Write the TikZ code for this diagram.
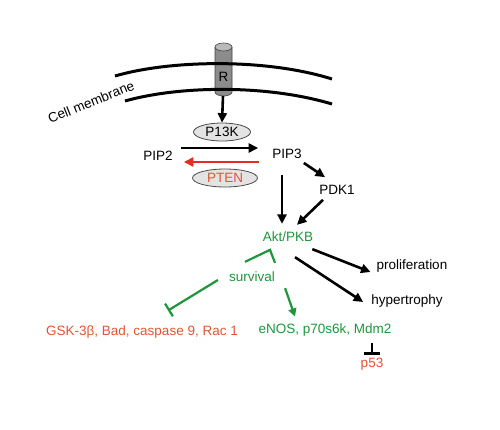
\documentclass[tikz,border=0pt]{standalone}
\usepackage{fontspec}
\setmainfont{Liberation Sans}
\usetikzlibrary{arrows.meta}
\usetikzlibrary{shapes.geometric}
\definecolor{aktgreen}{RGB}{30,150,60}
\definecolor{targetred}{RGB}{225,85,50}
\definecolor{ptenred}{RGB}{225,45,35}
\definecolor{cylgray}{RGB}{140,140,140}

\begin{document}
\begin{tikzpicture}[x = 1pt, y = -1pt, font=\fontsize{13.5}{16}\selectfont]
	\tikzstyle{textStyle} = [inner sep = 2pt]
	\tikzstyle{enzymeStyle} = [shape = ellipse, minimum width = 57pt, minimum height = 18pt, inner sep = 0pt, fill = gray!22, draw = gray!60!black, line width = 0.8pt]
	\tikzstyle{blackArrow} = [line width = 2.6pt, -{Triangle[length = 9.5pt, width = 9pt]}]
	\tikzstyle{greenArrow} = [line width = 2.2pt, aktgreen, -{Triangle[length = 8pt, width = 8pt]}]
	\tikzstyle{greenBlock} = [line width = 2.2pt, aktgreen, -{Bar[width = 15pt, line width = 2.2pt]}]
	\tikzstyle{blackBlock} = [line width = 2.6pt, -{Bar[width = 16pt, line width = 3pt]}]
	\useasboundingbox (0,0) rectangle (500,429);
	% receptor
	\fill[cylgray] (215,47) -- (215,92) arc[start angle = 180, end angle = 0, x radius = 8.5, y radius = 4] -- (232,47) -- cycle;
	\draw[gray!50!black, line width = 0.6pt] (215,47) -- (215,92) arc[start angle = 180, end angle = 0, x radius = 8.5, y radius = 4] -- (232,47);
	\filldraw[fill = gray!55, draw = gray!50!black, line width = 0.6pt] (223.5,47) ellipse [x radius = 8.5, y radius = 4];
	\coordinate (recBottom) at (223,96);
	% membrane
	\draw[line width = 3pt] (115,76) .. controls (170,60) and (265,58) .. (332,79);
	\draw[line width = 3pt] (125,101) .. controls (178,86) and (265,84) .. (332,104);
	\node[textStyle] (R) at (223.5,77) {R};
	\node[textStyle, rotate = 22] (membrane) at (91,102) {Cell membrane};
	% nodes
	\node[enzymeStyle] (p13k) at (222,132) {P13K};
	\node[enzymeStyle, minimum width = 65pt, text = targetred] (pten) at (225,178) {PTEN};
	\node[textStyle] (PIP2) at (158,156) {PIP2};
	\node[textStyle] (PIP3) at (287,154) {PIP3};
	\node[textStyle] (PDK1) at (337,190) {PDK1};
	\node[textStyle, text = aktgreen] (akt) at (288,237) {Akt/PKB};
	\node[textStyle, text = aktgreen] (surv) at (252,277) {survival};
	\node[textStyle] (prolif) at (412,266) {proliferation};
	\node[textStyle] (hyper) at (407,301) {hypertrophy};
	\node[textStyle, text = targetred] (gsk) at (142,332) {GSK-3β, Bad, caspase 9, Rac 1};
	\node[textStyle, text = aktgreen] (enos) at (325,330) {eNOS, p70s6k, Mdm2};
	\node[textStyle, text = targetred] (p53) at (372,364) {p53};
	% edges
	\draw[blackArrow] (recBottom) -- (p13k.north);
	\draw[blackArrow] ([xshift = 6pt, yshift = 8pt]PIP2.east) -- ([xshift = -12pt, yshift = 6pt]PIP3.west);
	\draw[blackArrow, ptenred] ([xshift = -11pt, yshift = -8pt]PIP3.west) -- ([xshift = 9pt, yshift = -6pt]PIP2.east);
	\draw[blackArrow] ([xshift = -5pt, yshift = -14pt]PIP3.south) -- ([xshift = -6pt, yshift = 6pt]akt.north);
	\draw[blackArrow] ([yshift = -2pt]PIP3.south east) -- ([xshift = -12pt, yshift = 6pt]PDK1.north);
	\draw[blackArrow] ([xshift = -14pt, yshift = -3pt]PDK1.south) -- ([xshift = 9pt, yshift = 5pt]akt.north);
	\draw[blackArrow] ([xshift = -3pt, yshift = -5pt]akt.south east) -- ([xshift = -4pt, yshift = -6pt]prolif.west);
	\draw[blackArrow] ([xshift = 7pt, yshift = -13pt]akt.south) -- ([xshift = -6pt, yshift = -1pt]hyper.west);
	\draw[line width = 2.2pt, aktgreen] ([xshift = -7pt, yshift = 8pt]surv.north) -- ++(25,-12) -- ++(5,13);
	\draw[greenBlock] ([xshift = -9pt, yshift = -3pt]surv.west) -- ([xshift = 26pt, yshift = 13pt]gsk.north);
	\draw[greenArrow] ([xshift = 8pt, yshift = -4pt]surv.south east) -- ([xshift = -30pt, yshift = 5pt]enos.north);
	\draw[blackBlock] ([yshift = -4pt]p53.north |- enos.south) -- ([yshift = 1pt]p53.north);
\end{tikzpicture}
\end{document}
